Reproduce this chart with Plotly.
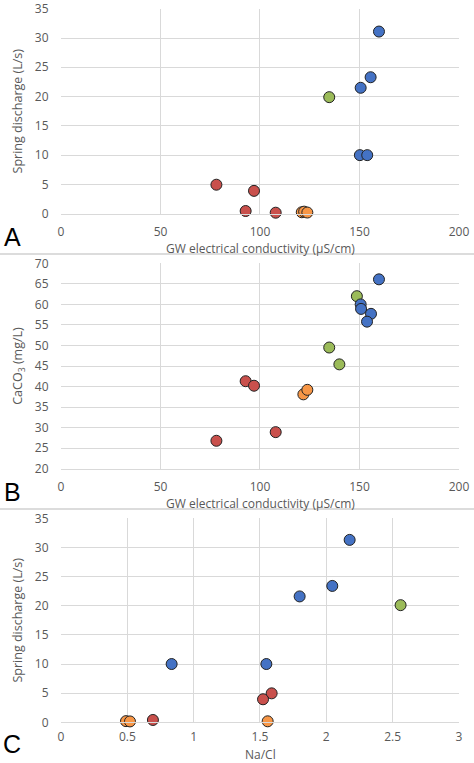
import plotly.graph_objects as go

# ---------------- data ----------------
# Panel A: GW electrical conductivity (uS/cm) vs spring discharge (L/s)
a_blue_x = [159.8, 155.6, 150.6, 150.2, 153.9]
a_blue_y = [31.1, 23.3, 21.5, 10.0, 10.0]
a_green_x = [134.8]
a_green_y = [19.9]
a_red_x = [78.1, 97.0, 92.8, 107.9]
a_red_y = [4.95, 3.9, 0.46, 0.17]
a_orange_x = [121.0, 122.2, 123.8]
a_orange_y = [0.25, 0.35, 0.2]

# Panel B: GW electrical conductivity vs CaCO3 (mg/L)
b_blue_x = [159.8, 150.6, 150.8, 155.8, 153.8]
b_blue_y = [66.1, 60.0, 58.9, 57.7, 55.8]
b_green_x = [148.7, 134.8, 139.9]
b_green_y = [62.0, 49.5, 45.4]
b_red_x = [92.8, 97.0, 78.1, 107.9]
b_red_y = [41.3, 40.2, 26.8, 28.9]
b_orange_x = [121.8, 123.8]
b_orange_y = [38.1, 39.2]

# Panel C: Na/Cl vs spring discharge (L/s)
c_blue_x = [2.176, 2.045, 1.799, 0.834, 1.548]
c_blue_y = [31.3, 23.4, 21.6, 10.0, 10.0]
c_green_x = [2.56]
c_green_y = [20.1]
c_red_x = [1.588, 1.523, 0.693]
c_red_y = [4.97, 3.95, 0.4]
c_orange_x = [1.558, 0.49, 0.52]
c_orange_y = [0.17, 0.2, 0.15]

panel_letters = ["A", "B", "C"]
x_titles = ["GW electrical conductivity (µS/cm)", "GW electrical conductivity (µS/cm)", "Na/Cl"]
y_titles = ["Spring discharge (L/s)", "CaCO<sub>3</sub> (mg/L)", "Spring discharge (L/s)"]

# ---------------- style ----------------
COL = {"blue": "#4472C4", "green": "#9BBB59", "red": "#C9504C", "orange": "#F79646"}
FONT = "Open Sans, Noto Sans, sans-serif"
GRID = "#d9d9d9"
TXT = "#595959"
W, H = 474, 763

fig = go.Figure()

panels = [
    ("", "", [(a_red_x, a_red_y, "red"), (a_orange_x, a_orange_y, "orange"),
              (a_green_x, a_green_y, "green"), (a_blue_x, a_blue_y, "blue")]),
    ("2", "2", [(b_red_x, b_red_y, "red"), (b_orange_x, b_orange_y, "orange"),
                (b_green_x, b_green_y, "green"), (b_blue_x, b_blue_y, "blue")]),
    ("3", "3", [(c_orange_x, c_orange_y, "orange"), (c_red_x, c_red_y, "red"),
                (c_green_x, c_green_y, "green"), (c_blue_x, c_blue_y, "blue")]),
]
for xs, ys, series in panels:
    for x, y, c in series:
        fig.add_trace(go.Scatter(
            x=x, y=y, mode="markers", xaxis="x" + xs, yaxis="y" + ys,
            marker=dict(size=11, color=COL[c], line=dict(color="#222222", width=1)),
            showlegend=False, cliponaxis=False, hoverinfo="x+y"))

# plot-area pixel geometry (top, bottom)
areas = [(8.7, 213.7), (263.3, 468.7), (518.3, 722.3)]
xdom = [61 / W, 459 / W]
xranges = [[0, 200.02], [0, 200.02], [0, 3.0003]]
xdticks = [50, 50, 0.5]
yranges = [[0, 35.004], [20, 70.005], [0, 35.004]]
ydticks = [5, 5, 5]
x_ticklens = [7, 7, 3]
x_title_y = [213.7 + 34.5, 468.7 + 34.5, 754.2]

layout = dict(
    width=W, height=H, margin=dict(l=0, r=0, t=0, b=0),
    paper_bgcolor="white", plot_bgcolor="white",
    font=dict(family=FONT, color=TXT, size=12),
    showlegend=False,
)
for i in range(3):
    suf = "" if i == 0 else str(i + 1)
    top, bot = areas[i]
    layout["xaxis" + suf] = dict(
        domain=xdom, anchor="y" + suf, range=xranges[i], dtick=xdticks[i], tick0=0,
        showgrid=True, gridcolor=GRID, gridwidth=1, zeroline=False,
        showline=True, linecolor=GRID, linewidth=1,
        ticks="outside", ticklen=x_ticklens[i], tickcolor="rgba(0,0,0,0)",
        tickfont=dict(size=12, color=TXT), automargin=False,
        ticklabeloverflow="allow",
    )
    layout["yaxis" + suf] = dict(
        domain=[1 - bot / H, 1 - top / H], anchor="x" + suf, range=yranges[i],
        dtick=ydticks[i], tick0=0,
        showgrid=True, gridcolor=GRID, gridwidth=1, zeroline=False,
        showline=False, mirror=False,
        ticks="outside", ticklen=9, tickcolor="rgba(0,0,0,0)",
        tickfont=dict(size=12, color=TXT), automargin=False,
        ticklabeloverflow="allow",
        title=dict(text=y_titles[i], font=dict(size=12.5, color=TXT), standoff=9),
    )
fig.update_layout(**layout)

# x-axis titles (placed just below the tick labels, as in the reference)
for i in range(3):
    fig.add_annotation(text=x_titles[i], x=(xdom[0] + xdom[1]) / 2, y=1 - x_title_y[i] / H,
                       xref="paper", yref="paper", showarrow=False,
                       xanchor="center", yanchor="middle",
                       font=dict(size=12, color=TXT, family=FONT))

# panel letters
letter_y = [237, 492, 744]
for i, L in enumerate(panel_letters):
    fig.add_annotation(text=L, x=12 / W, y=1 - letter_y[i] / H, xref="paper", yref="paper",
                       showarrow=False, xanchor="center", yanchor="middle",
                       font=dict(size=25, color="black", family="Liberation Sans, Arial, sans-serif"))

# separators between panels
for yy in [254, 509]:
    fig.add_shape(type="line", xref="paper", yref="paper", x0=0, x1=1,
                  y0=1 - yy / H, y1=1 - yy / H, line=dict(color="#d0d0d0", width=1.5))

fig.write_html("out.html")
